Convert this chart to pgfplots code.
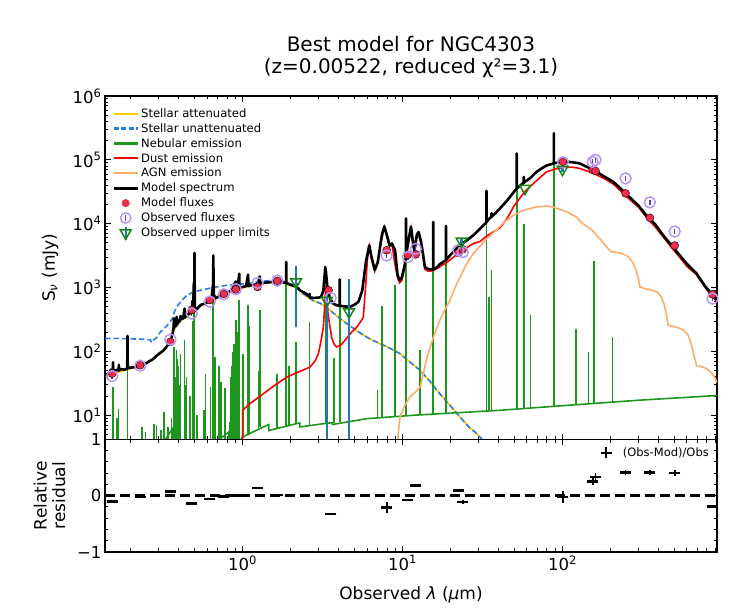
\documentclass[border=0pt]{standalone}
\usepackage{fontspec}
\setmainfont{DejaVu Sans}
\usepackage{pgfplots}
\pgfplotsset{compat=1.18}
\definecolor{stellatt}{RGB}{255,204,0}
\definecolor{stellun}{RGB}{40,125,235}
\definecolor{nebgreen}{RGB}{30,150,30}
\definecolor{agnorange}{RGB}{255,172,105}
\definecolor{modflux}{RGB}{240,45,75}
\definecolor{obsedge}{RGB}{185,150,245}
\definecolor{obserr}{RGB}{85,60,185}
\definecolor{ulblue}{RGB}{31,119,180}
\definecolor{ulgreen}{RGB}{20,135,20}
\begin{document}
\begin{tikzpicture}
\useasboundingbox (0pt,0pt) rectangle (737pt,615pt);
\begin{axis}[
 at={(105pt,175.5pt)}, anchor=south west,
 scale only axis, width=612pt, height=343.5pt,
 xmode=log, ymode=log,
 xmin=0.138, xmax=925, ymin=4.2, ymax=1e6,
 unbounded coords=jump,
 axis line style={line width=1.2pt},
 tick align=inside, xtick pos=both, ytick pos=both,
 major tick length=6pt, minor tick length=3.5pt,
 tick style={black, line width=1pt},
 xtick={1,10,100}, xticklabels={},
 minor xtick={0.2,0.3,0.4,0.5,0.6,0.7,0.8,0.9,2,3,4,5,6,7,8,9,20,30,40,50,60,70,80,90,200,300,400,500,600,700,800,900},
 ytick={10,100,1000,10000,100000,1000000},
 yticklabels={10\textsuperscript{1},10\textsuperscript{2},10\textsuperscript{3},10\textsuperscript{4},10\textsuperscript{5},10\textsuperscript{6}},
 minor ytick={5,6,7,8,9,20,30,40,50,60,70,80,90,200,300,400,500,600,700,800,900,2000,3000,4000,5000,6000,7000,8000,9000,20000,30000,40000,50000,60000,70000,80000,90000,200000,300000,400000,500000,600000,700000,800000,900000},
 yticklabel style={font=\fontsize{16.5}{18}\selectfont},
 title={Best model for NGC4303\\(z=0.00522, reduced χ²=3.1)},
 title style={at={(axis description cs:0.5,1)}, anchor=south, yshift=9pt, align=center, font=\fontsize{20}{22}\selectfont},
 ylabel={S\textsubscript{\textit{ν}} (mJy)},
 ylabel style={at={(axis description cs:-0.082,0.5)}, anchor=base, font=\fontsize{17}{20}\selectfont},
 legend cell align=left,
 legend style={at={(axis description cs:0,1)}, anchor=north west, xshift=4pt, yshift=-8pt, draw=none, fill=none,
   font=\fontsize{11.6}{13}\selectfont, row sep=0pt,
   /tikz/every even column/.append style={column sep=3pt},
   nodes={inner xsep=2pt, inner ysep=2.3pt}},
]
% Stellar attenuated
\addplot[stellatt, line width=1.6pt, legend image code/.code={\draw[stellatt, line width=2.2pt] (0pt,0pt) -- (24pt,0pt);}] coordinates {
(0.138,42)(0.153,44)(0.2,54)(0.229,58)(0.271,73)(0.3,90)(0.33,110)(0.352,140)(0.365,190)(0.388,260)(0.42,320)(0.48,390)(0.55,520)(0.624,600)(0.763,780)(0.907,930)(1.06,1020)(1.24,1120)(1.4,1180)(1.65,1220)(1.8,1170)(2.0,1080)(2.18,990)(2.4,780)(2.77,620)(3.1,555)(3.52,443)(4.0,340)(4.48,274)(5.0,225)(5.7,180)(6.5,150)(7.23,133)(8.5,110)(9.64,92.6)(11,70)(12.9,50.8)(15,33)(17.1,21.9)(20,14)(22.9,9.4)(26,6.6)(29.1,5.2)(32,4.0)(35,3)
};
\addlegendentry{Stellar attenuated}
% Stellar unattenuated
\addplot[stellun, line width=1.6pt, dash pattern=on 5.5pt off 3pt, legend image code/.code={\draw[stellun, line width=2.2pt, dash pattern=on 5pt off 2.5pt] (0pt,0pt) -- (24pt,0pt);}] coordinates {
(0.138,160)(0.16,161)(0.20,158)(0.25,155)(0.265,152)(0.271,138)(0.278,152)(0.29,165)(0.305,200)(0.33,240)(0.352,290)(0.365,330)(0.375,420)(0.388,500)(0.41,600)(0.448,760)(0.49,850)(0.542,910)(0.6,960)(0.69,1030)(0.8,1090)(0.9,1120)(1.06,1160)(1.3,1250)(1.56,1310)(1.8,1250)(2.0,1150)(2.18,1030)(2.4,800)(2.77,630)(3.1,560)(3.52,443)(4.0,340)(4.48,274)(5.0,225)(5.7,180)(6.5,150)(7.23,133)(8.5,110)(9.64,92.6)(11,70)(12.9,50.8)(15,33)(17.1,21.9)(20,14)(22.9,9.4)(26,6.6)(29.1,5.2)(32,4.0)(35,3)
};
\addlegendentry{Stellar unattenuated}
% Nebular lines
\addplot[nebgreen, line width=1.6pt, legend image code/.code={\draw[nebgreen, line width=2.2pt] (0pt,0pt) -- (24pt,0pt);}] coordinates {
(0.155,1)(0.155,27.8)(0.155,nan)
(0.164,1)(0.164,9)(0.164,nan)
(0.168,1)(0.168,12.7)(0.168,nan)
(0.1909,1)(0.1909,120)(0.1909,nan)
(0.235,1)(0.235,6.6)(0.235,nan)
(0.247,1)(0.247,5.5)(0.247,nan)
(0.280,1)(0.280,7.4)(0.280,nan)
(0.290,1)(0.290,7.0)(0.290,nan)
(0.310,1)(0.310,6.0)(0.310,nan)
(0.323,1)(0.323,11.3)(0.323,nan)
(0.3426,1)(0.3426,6.5)(0.3426,nan)
(0.360,1)(0.360,9)(0.360,nan)
(0.3727,1)(0.3727,118)(0.3727,nan)
(0.3750,1)(0.3750,20)(0.3750,nan)
(0.3798,1)(0.3798,28)(0.3798,nan)
(0.3835,1)(0.3835,40)(0.3835,nan)
(0.3869,1)(0.3869,104)(0.3869,nan)
(0.3889,1)(0.3889,77)(0.3889,nan)
(0.3970,1)(0.3970,60)(0.3970,nan)
(0.4070,1)(0.4070,30)(0.4070,nan)
(0.4102,1)(0.4102,92)(0.4102,nan)
(0.4340,1)(0.4340,150)(0.4340,nan)
(0.4363,1)(0.4363,30)(0.4363,nan)
(0.4471,1)(0.4471,40)(0.4471,nan)
(0.4686,1)(0.4686,20)(0.4686,nan)
(0.4861,1)(0.4861,300)(0.4861,nan)
(0.4959,1)(0.4959,900)(0.4959,nan)
(0.5007,1)(0.5007,3000)(0.5007,nan)
(0.5200,1)(0.5200,10)(0.5200,nan)
(0.5755,1)(0.5755,12)(0.5755,nan)
(0.5876,1)(0.5876,45)(0.5876,nan)
(0.6300,1)(0.6300,28)(0.6300,nan)
(0.6312,1)(0.6312,15)(0.6312,nan)
(0.6548,1)(0.6548,600)(0.6548,nan)
(0.6563,1)(0.6563,2600)(0.6563,nan)
(0.6583,1)(0.6583,1500)(0.6583,nan)
(0.6678,1)(0.6678,20)(0.6678,nan)
(0.6717,1)(0.6717,82)(0.6717,nan)
(0.6731,1)(0.6731,70)(0.6731,nan)
(0.7065,1)(0.7065,45)(0.7065,nan)
(0.7136,1)(0.7136,60)(0.7136,nan)
(0.7330,1)(0.7330,33)(0.7330,nan)
(0.7751,1)(0.7751,27)(0.7751,nan)
(0.8300,1)(0.8300,8)(0.8300,nan)
(0.8400,1)(0.8400,15)(0.8400,nan)
(0.8446,1)(0.8446,40)(0.8446,nan)
(0.8502,1)(0.8502,30)(0.8502,nan)
(0.8545,1)(0.8545,45)(0.8545,nan)
(0.8598,1)(0.8598,60)(0.8598,nan)
(0.8665,1)(0.8665,80)(0.8665,nan)
(0.8750,1)(0.8750,100)(0.8750,nan)
(0.8863,1)(0.8863,130)(0.8863,nan)
(0.9015,1)(0.9015,160)(0.9015,nan)
(0.9069,1)(0.9069,310)(0.9069,nan)
(0.9229,1)(0.9229,200)(0.9229,nan)
(0.9531,1)(0.9531,650)(0.9531,nan)
(0.9546,1)(0.9546,300)(0.9546,nan)
(1.005,4.5)(1.005,90)(1.005,nan)
(1.083,5)(1.083,540)(1.083,nan)
(1.094,5)(1.094,250)(1.094,nan)
(1.257,6.4)(1.257,50)(1.257,nan)
(1.282,6.5)(1.282,443)(1.282,nan)
(1.644,6.2)(1.644,45)(1.644,nan)
(1.875,6.8)(1.875,1340)(1.875,nan)
(1.945,6.9)(1.945,60)(1.945,nan)
(2.166,7.4)(2.166,141)(2.166,nan)
(2.626,7.0)(2.626,290)(2.626,nan)
(3.297,7.5)(3.297,500)(3.297,nan)
(3.74,7.7)(3.74,80)(3.74,nan)
(4.052,7.8)(4.052,820)(4.052,nan)
(4.654,8.0)(4.654,50)(4.654,nan)
(6.985,9.1)(6.985,24.6)(6.985,nan)
(7.46,9.3)(7.46,511)(7.46,nan)
(8.99,9.6)(8.99,1120)(8.99,nan)
(10.51,9.9)(10.51,9000)(10.51,nan)
(12.81,10.3)(12.81,104)(12.81,nan)
(15.56,10.6)(15.56,8800)(15.56,nan)
(18.71,10.9)(18.71,6500)(18.71,nan)
(33.48,11.8)(33.48,22000)(33.48,nan)
(34.81,11.9)(34.81,714)(34.81,nan)
(36.02,12.0)(36.02,1875)(36.02,nan)
(51.8,12.7)(51.8,90000)(51.8,nan)
(57.32,12.9)(57.32,10000)(57.32,nan)
(63.18,13.1)(63.18,378)(63.18,nan)
(88.35,13.7)(88.35,172000)(88.35,nan)
(121.9,14.5)(121.9,229)(121.9,nan)
(145.5,15.0)(145.5,98)(145.5,nan)
(157.7,15.2)(157.7,2600)(157.7,nan)
(205.3,15.8)(205.3,169)(205.3,nan)
};
\addlegendentry{Nebular emission}
% Nebular continuum
\addplot[nebgreen, line width=1.6pt, forget plot] coordinates {
(0.33,4.2)(0.3646,6.2)(0.3647,3.5)(0.3648,nan)
(0.70,4.0)(0.8204,5.5)(0.8205,3.5)(0.8206,nan)
(0.95,3.8)(1.0,4.6)(1.35,6.6)(1.4585,7.2)(1.459,5.8)(2.2,7.5)(2.279,7.6)(2.28,6.6)(3.3,7.5)(3.646,7.7)(3.647,7.2)(6.0,8.9)(12,10.1)(40,12.0)(100,14.2)(300,17.3)(960,20.6)
};
% Dust emission
\addplot[red, line width=1.6pt, legend image code/.code={\draw[red, line width=2.2pt] (0pt,0pt) -- (24pt,0pt);}] coordinates {
(0.999,1)(1.0,12)(1.1,15)(1.35,21.9)(1.6,30)(1.89,39.8)(2.2,47)(2.64,57)(2.85,72)(2.98,93)(3.1,150)(3.2,242)(3.26,500)(3.3,912)(3.36,700)(3.42,393)(3.52,242)(3.62,160)(3.75,128)(3.88,118)(4.1,125)(4.37,150)(4.8,200)(5.18,242)(5.5,300)(5.69,347)(5.9,1200)(6.05,3000)(6.22,4400)(6.4,2900)(6.7,1800)(7.0,2400)(7.3,4800)(7.7,8900)(8.0,6300)(8.3,4400)(8.6,4700)(8.9,2600)(9.3,1450)(9.6,1190)(9.9,1300)(10.3,2000)(10.7,4000)(11.0,6000)(11.3,8600)(11.7,4200)(11.85,3600)(12.0,4200)(12.3,6400)(12.6,7000)(13.0,5200)(13.4,3200)(13.8,1950)(14.5,1800)(15.6,1850)(17,2100)(19,2500)(22.9,3640)(27.7,4900)(30.6,5300)(33.5,6400)(40.6,8600)(45,12000)(49.4,18400)(58,31700)(68,46000)(79.6,65000)(90,72000)(101,76200)(115,77000)(128,73600)(145,66000)(163,58400)(185,50000)(208,41800)(230,33000)(264,23800)(300,18000)(334,12650)(380,8900)(426,6250)(480,4250)(540,3000)(600,2150)(689,1600)(780,1000)(872,715)(930,590)
};
\addlegendentry{Dust emission}
% AGN emission
\addplot[agnorange, line width=1.6pt, legend image code/.code={\draw[agnorange, line width=2.2pt] (0pt,0pt) -- (24pt,0pt);}] coordinates {
(9.22,1)(9.4,5)(9.64,9.4)(10.3,14)(11.1,19.4)(12.0,23)(12.9,27.8)(13.5,45)(14.2,80)(14.9,118)(16,200)(17.1,308)(18.5,460)(19.8,631)(21.3,1000)(22.9,1470)(25,2300)(27.7,3420)(30.6,4500)(33.5,5800)(38.6,7940)(43,10500)(49.4,13600)(56,16000)(62.9,17400)(70,18400)(79.9,18900)(86,18500)(92.5,17400)(100,16300)(106,15400)(112,14200)(118,13400)(123,12600)(128,11200)(136,9800)(145,8700)(153,8000)(163,6600)(175,5500)(188,4400)(201,3640)(215,3580)(235,3450)(255,3100)(272,2600)(288,1900)(298,1400)(305,1025)(330,960)(370,900)(395,840)(415,720)(432,550)(446,380)(458,257)(500,245)(540,232)(575,215)(610,180)(640,130)(665,85)(689,60)(740,58)(795,54)(840,48)(880,42)(916,35.4)(940,31)
};
\addlegendentry{AGN emission}
% Model spectrum
\addplot[black, line width=2.6pt, line join=round, legend image code/.code={\draw[black, line width=3pt] (0pt,0pt) -- (24pt,0pt);}] coordinates {
(0.138,42)(0.142,44)(0.147,47)(0.150,52)(0.152,46)(0.1545,48)(0.155,68)(0.1555,49)(0.160,50)(0.165,52)(0.168,50)(0.1685,62)(0.169,51)(0.175,53)(0.182,52)(0.190,54)(0.1909,175)(0.1915,55)(0.200,56)(0.210,57)(0.220,58)(0.229,60)(0.240,62)(0.250,66)(0.260,70)(0.271,74)(0.280,79)(0.290,86)(0.300,92)(0.310,98)(0.320,104)(0.330,113)(0.340,126)(0.350,142)(0.358,160)(0.365,190)(0.370,230)(0.3727,330)(0.375,240)(0.380,280)(0.384,250)(0.3869,350)(0.389,260)(0.397,300)(0.402,290)(0.4102,360)(0.415,320)(0.425,330)(0.434,470)(0.437,340)(0.445,370)(0.455,380)(0.470,400)(0.480,400)(0.4861,620)(0.490,410)(0.4959,1200)(0.4985,420)(0.5007,3500)(0.503,430)(0.52,470)(0.55,540)(0.58,560)(0.60,590)(0.624,620)(0.640,640)(0.6548,1200)(0.6555,650)(0.6563,3200)(0.657,660)(0.6583,2000)(0.661,660)(0.6717,740)(0.673,680)(0.69,700)(0.72,740)(0.763,790)(0.80,850)(0.85,900)(0.9069,1250)(0.9075,940)(0.930,980)(0.9531,1650)(0.956,1000)(1.0,1030)(1.05,1050)(1.083,1600)(1.088,1060)(1.15,1100)(1.2,1120)(1.24,1140)(1.282,1500)(1.286,1160)(1.4,1200)(1.55,1230)(1.65,1250)(1.80,1200)(1.87,1190)(1.875,2530)(1.88,1180)(2.0,1100)(2.16,1040)(2.166,1170)(2.17,1030)(2.3,900)(2.4,850)(2.5,800)(2.62,720)(2.626,800)(2.63,700)(2.8,690)(3.0,700)(3.1,720)(3.2,900)(3.29,2100)(3.32,1800)(3.38,1100)(3.45,800)(3.55,650)(3.7,560)(3.88,530)(4.05,520)(4.052,1340)(4.06,520)(4.3,510)(4.7,500)(5.0,540)(5.3,600)(5.6,900)(5.9,2500)(6.2,4600)(6.4,3000)(6.7,1900)(7.0,2500)(7.3,5000)(7.46,7000)(7.7,9100)(8.0,6500)(8.3,4600)(8.6,4900)(8.99,3800)(9.3,1600)(9.6,1300)(9.9,1450)(10.3,2200)(10.5,3000)(10.51,12100)(10.52,3200)(10.9,5500)(11.3,9000)(11.7,4500)(11.85,3860)(12.0,4500)(12.3,6800)(12.6,7400)(13.0,5500)(13.4,3500)(13.8,2100)(14.5,1950)(15.55,1920)(15.56,10700)(15.57,1920)(16.5,2100)(17.0,2300)(18.7,2700)(18.71,9270)(18.72,2700)(20,3300)(22.9,4700)(25,5400)(27.7,6600)(30,8000)(33.45,10500)(33.48,32800)(33.51,10600)(34.8,12000)(36.0,12800)(36.02,14600)(36.04,12900)(38,14500)(40.6,17300)(45,23000)(51.7,35700)(51.8,126000)(51.9,35800)(57.3,44000)(57.31,54000)(57.35,44100)(63,52000)(68.9,65000)(75,75000)(80,82000)(88.3,88100)(88.35,260000)(88.4,88200)(95,92000)(106,93400)(115,92000)(128,88000)(145,76000)(163,65000)(180,56000)(208,45400)(230,36000)(264,25800)(300,19000)(334,13600)(380,9800)(426,6600)(480,4600)(540,3220)(600,2350)(689,1660)(780,1050)(872,760)(930,620)
};
\addlegendentry{Model spectrum}
% Model fluxes
\addplot[only marks, mark=*, mark size=4pt, mark options={draw=none, fill=modflux},
 legend image code/.code={\fill[modflux] (12pt,0pt) circle (3.8pt);}] coordinates {
(0.153,45.4)(0.229,61)(0.354,142)(0.481,448)(0.624,641)(0.763,796)(0.907,939)(1.24,1026)(1.65,1278)(3.45,911)(7.96,3850)(10.8,3260)(12.1,3320)(22.3,3500)(23.8,4000)(100.7,93200)(154.5,70000)(161,67000)(248,29900)(352,12400)(503,4570)(867,788)
};
\addlegendentry{Model fluxes}
% Observed flux error bars
\addplot[obserr, line width=1.4pt, forget plot] coordinates {
(0.153,37.2)(0.153,45.4)(0.153,nan)
(0.229,54)(0.229,66)(0.229,nan)
(0.354,139)(0.354,169)(0.354,nan)
(0.481,354)(0.481,432)(0.481,nan)
(0.624,545)(0.624,666)(0.624,nan)
(0.763,709)(0.763,867)(0.763,nan)
(0.907,850)(0.907,1038)(0.907,nan)
(1.24,1067)(1.24,1305)(1.24,nan)
(1.65,1162)(1.65,1420)(1.65,nan)
(3.55,621)(3.55,759)(3.55,nan)
(7.96,2867)(7.96,3504)(7.96,nan)
(10.8,2718)(10.8,3322)(10.8,nan)
(12.1,3645)(12.1,4455)(12.1,nan)
(22.3,3465)(22.3,4235)(22.3,nan)
(23.8,3240)(23.8,3960)(23.8,nan)
(100.7,82260)(100.7,100540)(100.7,nan)
(154.5,83700)(154.5,102300)(154.5,nan)
(161,90000)(161,110000)(161,nan)
(248,46170)(248,56430)(248,nan)
(352,19440)(352,23760)(352,nan)
(503,6813)(503,8327)(503,nan)
(867,608)(867,743)
};
% Observed fluxes
\addplot[only marks, mark=o, mark size=5.5pt, mark options={draw=obsedge, line width=1.5pt},
 legend image code/.code={\draw[obsedge, line width=1.5pt] (12pt,0pt) circle (5.2pt);\draw[obserr, line width=1.4pt] (12pt,-2.6pt)--(12pt,2.6pt);}]
 coordinates {
(0.153,41.3)(0.229,60)(0.354,154)(0.481,393)(0.624,605)(0.763,788)(0.907,944)(1.24,1186)(1.65,1291)(3.55,690)(7.96,3185)(10.8,3020)(12.1,4050)(22.3,3850)(23.8,3600)(100.7,91400)(154.5,93000)(161,100000)(248,51300)(352,21600)(503,7570)(867,675)
};
\addlegendentry{Observed fluxes}
% Observed upper limits
\addplot[only marks, mark=triangle, mark size=6.2pt, mark options={draw=ulgreen, line width=1.5pt, rotate=180},
 legend image code/.code={\draw[ulblue, line width=2.2pt] (12pt,-6.5pt)--(12pt,6.5pt);\draw[ulgreen, line width=1.5pt] (6.6pt,3.2pt)--(17.4pt,3.2pt)--(12pt,-6.2pt)--cycle;}] coordinates {
(2.16,1227)(3.37,630)(4.63,418)(23.4,5330)(58.3,35700)(100,71000)
};
\addlegendentry{Observed upper limits}
\addplot[ulblue, line width=2.6pt, forget plot] coordinates {
(2.16,240)(2.16,2160)(2.16,nan)
(3.37,1)(3.37,980)(3.37,nan)
(4.63,1)(4.63,1350)(4.63,nan)
(23.4,4800)(23.4,5900)(23.4,nan)
(100,64000)(100,78000)
};
\end{axis}

\begin{axis}[
 at={(105pt,63pt)}, anchor=south west,
 scale only axis, width=612pt, height=112.5pt,
 xmode=log, xmin=0.138, xmax=925, ymin=-1, ymax=1,
 axis line style={line width=1.2pt},
 tick align=inside, xtick pos=both, ytick pos=both,
 major tick length=6pt, minor tick length=3.5pt,
 tick style={black, line width=1pt},
 xtick={1,10,100},
 xticklabels={10\textsuperscript{0},10\textsuperscript{1},10\textsuperscript{2}},
 minor xtick={0.2,0.3,0.4,0.5,0.6,0.7,0.8,0.9,2,3,4,5,6,7,8,9,20,30,40,50,60,70,80,90,200,300,400,500,600,700,800,900},
 ytick={-1,0,1}, yticklabels={−1,0,1}, minor y tick num=4,
 ticklabel style={font=\fontsize{16.5}{18}\selectfont},
 xlabel={Observed \textit{λ} (\textit{μ}m)},
 xlabel style={at={(axis description cs:0.5,-0.42)}, anchor=base, font=\fontsize{17}{20}\selectfont},
 ylabel={Relative\\residual},
 ylabel style={at={(axis description cs:-0.059,0.5)}, anchor=south, align=center, font=\fontsize{17}{18.5}\selectfont},
 legend style={at={(axis description cs:1,1)}, anchor=north east, xshift=-3pt, yshift=-4pt, draw=none, fill=none, font=\fontsize{11.5}{13}\selectfont,
   /tikz/every odd column/.append style={column sep=8pt}},
 legend image code/.code={\draw[black, line width=2.2pt] (6pt,-5.5pt)--(6pt,5.5pt) (0.5pt,0pt)--(11.5pt,0pt);},
]
\addplot[black, line width=2.6pt, dash pattern=on 10pt off 5pt, forget plot] coordinates {(0.138,0)(925,0)};
\addplot[black, only marks, mark=-, mark size=5.5pt, mark options={line width=2.4pt},
 error bars/.cd, y dir=both, y explicit, error bar style={line width=1.8pt}, error mark=none]
 table[x index=0, y index=1, y error index=2] {
x y e
0.153 -0.10 0.03
0.229 -0.02 0.02
0.354 0.077 0.02
0.481 -0.14 0.01
0.624 -0.06 0.02
0.763 -0.01 0.01
0.907 0.005 0.01
1.24 0.135 0.01
1.65 0.01 0.01
3.55 -0.32 0.01
7.96 -0.21 0.10
10.8 -0.08 0.02
12.1 0.18 0.02
22.3 0.09 0.03
23.8 -0.11 0.03
100.7 -0.02 0.11
154.5 0.25 0.06
161 0.33 0.08
248 0.41 0.05
352 0.41 0.04
503 0.40 0.05
867 -0.19 0.01
};
\addlegendentry{(Obs-Mod)/Obs}
\end{axis}
\end{tikzpicture}
\end{document}
